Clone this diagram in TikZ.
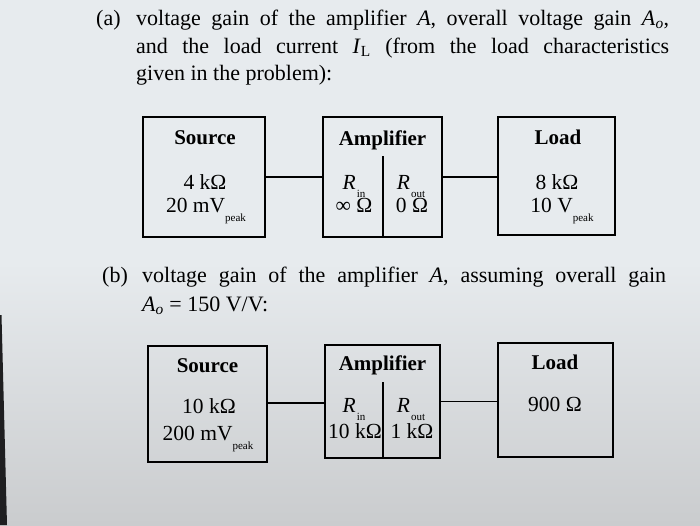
\documentclass[tikz,border=0pt]{standalone}
\usepackage{fontspec}
\setmainfont{Liberation Serif}
\definecolor{paper}{RGB}{231,235,238}
\definecolor{paperdark}{RGB}{202,204,206}
\definecolor{edge}{RGB}{30,30,32}
\tikzset{
  blk/.style={draw, line width=1.3pt, inner sep=0pt},
  body/.style={inner sep=0pt, align=justify, anchor=north west},
  lbl/.style={inner sep=0pt, anchor=base, font=\fontsize{21.5}{24}\selectfont},
  ttl/.style={inner sep=0pt, anchor=base, font=\fontsize{21}{24}\selectfont\bfseries},
}
\newcommand{\lowsub}[2]{\raisebox{-#1}{\fontsize{11}{11}\selectfont #2}}
\begin{document}
\begin{tikzpicture}[x=1pt, y=-1pt]
    \shade[top color=paper, bottom color=paperdark, middle color=paper] (0,0) rectangle (700,525);
    \useasboundingbox (0,0) rectangle (700,525);
    \fill[edge] (0,315) -- (1.5,315) -- (7,525) -- (0,525) -- cycle;
    % (a)
    \node[body, text width=573pt, font=\fontsize{22}{27.5}\selectfont] (ta) at (96,10) {\makebox[40pt][l]{(a)}voltage gain of the amplifier \textit{A}, overall voltage gain \textit{A}\textsubscript{\textit{o}},\linebreak
      \hspace*{40pt}and the load current \textit{I}\textsubscript{L} (from the load characteristics\linebreak
      \hspace*{40pt}given in the problem):};
    \node[blk, minimum width=122pt, minimum height=120pt] (s1) at (204,177) {};
    \node[blk, minimum width=119pt, minimum height=120pt] (m1) at (382.5,177) {};
    \node[blk, minimum width=117pt, minimum height=118pt] (l1) at (556.5,176) {};
    \coordinate (d1) at (383,156);
    \draw[line width=1.3pt] (d1) -- (d1 |- m1.south);
    \draw[line width=1.3pt] (s1.east) -- (s1.east -| m1.west);
    \draw[line width=1.3pt] (m1.east) -- (m1.east -| l1.west);
    \node[ttl] (s1t) at (205,144) {Source};
    \node[lbl] (s1r) at (205,189) {4 kΩ};
    \node[lbl] (s1v) at (206,212) {20 mV\lowsub{9pt}{peak}};
    \node[ttl] (m1t) at (382.5,145) {Amplifier};
    \node[lbl] (m1a) at (354,189) {\textit{R}\kern1pt\lowsub{8pt}{in}};
    \node[lbl] (m1b) at (411,189) {\textit{R}\kern1pt\lowsub{8pt}{out}};
    \node[lbl] (m1c) at (354,212) {∞ Ω};
    \node[lbl] (m1d) at (412,212) {0 Ω};
    \node[ttl] (l1t) at (558,144) {Load};
    \node[lbl] (l1r) at (557,189) {8 kΩ};
    \node[lbl] (l1v) at (562,212) {10 V\lowsub{9pt}{peak}};
    % (b)
    \node[body, text width=564pt, font=\fontsize{22}{29}\selectfont] (tb) at (102,267) {\makebox[40pt][l]{(b)}voltage gain of the amplifier \textit{A}, assuming overall gain\linebreak
      \hspace*{40pt}\textit{A}\textsubscript{\textit{o}} = 150 V/V:};
    \node[blk, minimum width=119pt, minimum height=116pt] (s2) at (207.5,404) {};
    \node[blk, minimum width=115pt, minimum height=113pt] (m2) at (382.5,401.5) {};
    \node[blk, minimum width=115pt, minimum height=114pt] (l2) at (555.5,400) {};
    \coordinate (d2) at (383,382);
    \draw[line width=1.3pt] (d2) -- (d2 |- m2.south);
    \draw[line width=1.3pt] (s2.east) ++(0,-1) -- (m2.west |- 0,403);
    \draw[line width=1.3pt] (m2.east) -- (m2.east -| l2.west);
    \node[ttl] (s2t) at (207.5,372) {Source};
    \node[lbl] (s2r) at (209,413) {10 kΩ};
    \node[lbl] (s2v) at (208,440) {200 mV\lowsub{9pt}{peak}};
    \node[ttl] (m2t) at (382.5,370) {Amplifier};
    \node[lbl] (m2a) at (354,412) {\textit{R}\kern1pt\lowsub{8pt}{in}};
    \node[lbl] (m2b) at (411,412) {\textit{R}\kern1pt\lowsub{8pt}{out}};
    \node[lbl] (m2c) at (355,438) {10 kΩ};
    \node[lbl] (m2d) at (412,438) {1 kΩ};
    \node[ttl] (l2t) at (555,369) {Load};
    \node[lbl] (l2r) at (555,411) {900 Ω};
\end{tikzpicture}
\end{document}
